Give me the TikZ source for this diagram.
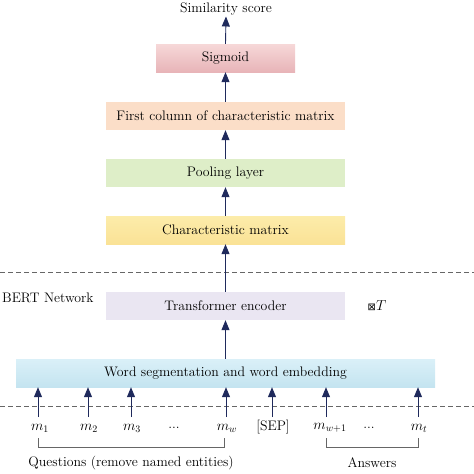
\documentclass[tikz,border=0pt]{standalone}
\usepackage{fontspec}
\newfontfamily\symfont{DejaVu Sans}
\usetikzlibrary{arrows.meta,calc}
\definecolor{arrowc}{HTML}{1F2A5C}
\begin{document}
\begin{tikzpicture}[x=1pt,y=-1pt,
  box/.style={minimum height=28pt,inner sep=0pt,font=\fontsize{13.8}{16}\selectfont},
  lbl/.style={inner sep=1pt,font=\fontsize{13.8}{16}\selectfont},
  arr/.style={draw=arrowc,line width=0.9pt,-{Triangle[length=10pt,width=8pt]},arrowc},
  brk/.style={draw=black!60,line width=0.8pt},
  dashline/.style={draw=black!60,line width=0.8pt,dash pattern=on 5pt off 3pt}]
\useasboundingbox (0,0) rectangle (474,474);
\node[lbl] (score) at (226,9) {Similarity score};
\node[box,minimum width=139pt,top color={rgb,255:red,246;green,216;blue,216},bottom color={rgb,255:red,232;green,180;blue,184}] (sig) at (225.5,58) {Sigmoid};
\node[box,minimum width=239pt,fill={rgb,255:red,251;green,222;blue,200}] (fc) at (225.5,116) {First column of characteristic matrix};
\node[box,minimum width=239pt,fill={rgb,255:red,222;green,238;blue,200}] (pool) at (225.5,173) {Pooling layer};
\node[box,minimum width=239pt,top color={rgb,255:red,252;green,236;blue,170},bottom color={rgb,255:red,250;green,226;blue,150}] (cm) at (225.5,230) {Characteristic matrix};
\node[box,minimum width=239pt,fill={rgb,255:red,234;green,230;blue,242}] (te) at (225.5,306) {Transformer encoder};
\node[box,minimum width=419pt,top color={rgb,255:red,218;green,240;blue,248},bottom color={rgb,255:red,196;green,228;blue,240}] (ws) at (225.5,373) {Word segmentation and word embedding};
\node[lbl,anchor=west] (bert) at (1,298) {BERT Network};
\node[lbl] (tt) at (377,306) {{\symfont\fontsize{10}{12}\selectfont ⊠}$T$};
\coordinate (dl1) at (0,272);
\coordinate (dr1) at (474,272);
\coordinate (dl2) at (0,406);
\coordinate (dr2) at (474,406);
\draw[dashline] (dl1) -- (dr1);
\draw[dashline] (dl2) -- (dr2);
\draw[arr] (sig.north) -- (score.south);
\draw[arr] (fc.north) -- (sig.south);
\draw[arr] (pool.north) -- (fc.south);
\draw[arr] (cm.north) -- (pool.south);
\draw[arr] (te.north) -- (cm.south);
\draw[arr] (ws.north) -- (te.south);
\node[lbl] (m1) at (40,428) {$m_1$};
\node[lbl] (m2) at (89,428) {$m_2$};
\node[lbl] (m3) at (132,428) {$m_3$};
\node[lbl] (d1) at (174,428) {...};
\node[lbl] (mw) at (227,428) {$m_w$};
\node[lbl] (sep) at (273,427) {[SEP]};
\node[lbl] (mw1) at (330,428) {$m_{w+1}$};
\node[lbl] (d2) at (369,428) {...};
\node[lbl] (mt) at (419,428) {$m_t$};
\foreach \n/\xx in {m1/38,m2/88,m3/131,mw/226,sep/272,mw1/326,mt/418}{
  \coordinate (s\n) at (\xx,417);
  \draw[arr] (s\n) -- (s\n |- ws.south);
}
\coordinate (qa) at (38,438);
\coordinate (qb) at (224,438);
\coordinate (aa) at (326,438);
\coordinate (ab) at (418,438);
\draw[brk] (qa) -- ++(0,9) -| (qb);
\draw[brk] (aa) -- ++(0,9) -| (ab);
\node[lbl] (ql) at (131,463) {Questions (remove named entities)};
\node[lbl] (al) at (372,463) {Answers};
\end{tikzpicture}
\end{document}
